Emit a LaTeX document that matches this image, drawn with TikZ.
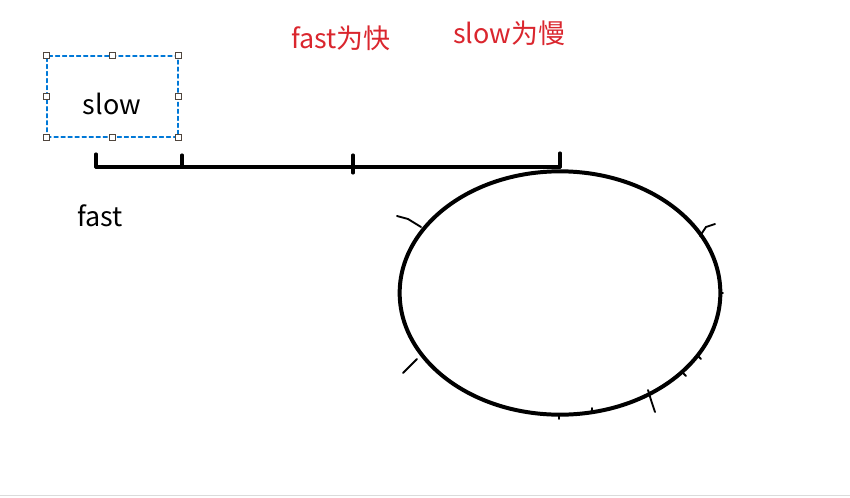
\documentclass[tikz,border=0pt]{standalone}
\usepackage{fontspec}
\setmainfont{Noto Sans CJK SC}
\usepackage{xcolor}
\usepackage{tikz}
\usetikzlibrary{shapes.geometric, positioning, calc}
\definecolor{notered}{RGB}{218,38,46}
\definecolor{selblue}{RGB}{0,120,215}
\definecolor{gripgray}{RGB}{80,70,62}

\begin{document}
\begin{tikzpicture}[x=0.03cm, y=-0.03cm, line cap=round,
        pen/.style={line width=2.6pt},
        nib/.style={line width=1.6pt},
        word/.style={font=\fontsize{23}{27}\selectfont, inner sep=0pt},
        grip/.style={draw=gripgray, fill=white, line width=0.7pt, minimum size=0.17cm, inner sep=0pt}]
        \useasboundingbox (0,0) rectangle (850,497);

        \node[word, text=notered] (fastnote) at (341,38) {fast为快};
        \node[word, text=notered] (slownote) at (509,33) {slow为慢};

        \node[draw=selblue, dashed, dash pattern=on 3.5pt off 2.5pt, line width=0.9pt,
            minimum width=3.93cm, minimum height=2.43cm] (sel) at (112.5,96.5) {};
        \node[word] (slow) at (112,104) {slow};
        \foreach \a in {north west, north, north east, east, south east, south, south west, west}
            \node[grip] (grip \a) at (sel.\a) {};

        \node[word] (fast) at (100,216) {fast};

        \node[draw, ellipse, line width=3.4pt, minimum width=9.62cm, minimum height=7.3cm,
            inner sep=0pt] (loop) at (560,293) {};

        % the track and its marks
        \coordinate (t1) at (96,167);
        \coordinate (t2) at (182,167);
        \coordinate (t3) at (353,167);
        \coordinate (t4) at (loop.north |- t1);
        \draw[pen] (t1) -- (t4);
        \draw[pen] (t1) -- ++(0,-13);
        \draw[pen] (t2) -- ++(0,-12);
        \draw[pen] (t3) ++(0,-12) -- ++(0,18);
        \draw[pen] (t4) -- ++(0,-14);

        % marks round the loop
        \draw[nib] (397,216) -- (408,219) -- (421,227);
        \draw[nib] (700,236) -- (706,227) -- (715,224);
        \draw[nib] (403,373) -- (417,359);
        \draw[nib] (648,390) -- (651,400) -- (655,412);
        \draw[nib] (720,293) -- (723,293);
        \draw[nib] (559,414) -- (559,419);
        \draw[nib] (592,408) -- (592,411);
        \draw[nib] (682,372) -- (686,376);
        \draw[nib] (698,356) -- (701,359);

        \draw[black!14, line width=1.4pt] (0,495.5) -- (850,495.5);
\end{tikzpicture}
\end{document}
